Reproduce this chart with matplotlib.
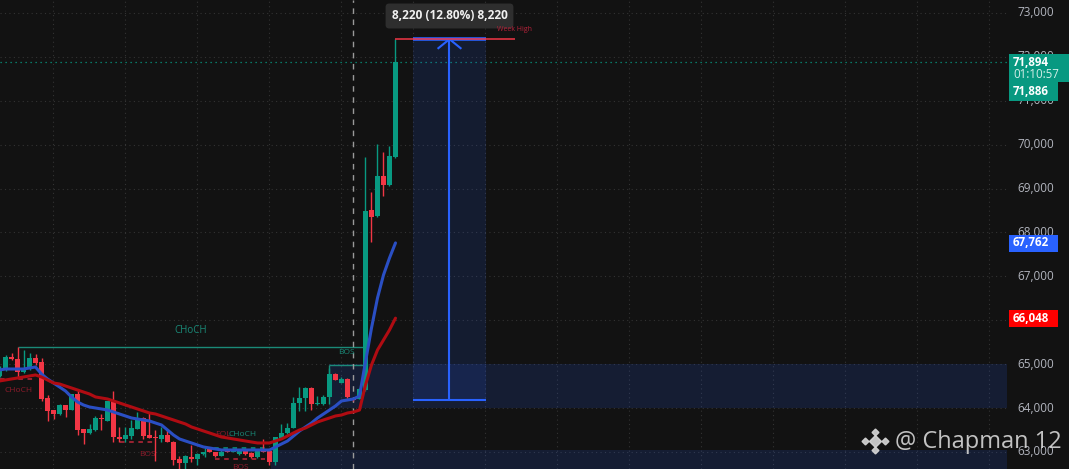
import matplotlib.pyplot as plt
from matplotlib.patches import Rectangle
import numpy as np

plt.rcParams['font.family'] = ['Open Sans', 'DejaVu Sans']

# candle data (one bar per index)
opens = [64731, 64868, 65164, 65118, 64822, 64890, 65141, 65050, 64230, 63956,
         63865, 64070, 63956, 64321, 63524, 63433, 63501, 63774, 63706, 64162,
         63342, 63296, 63364, 63524, 63774, 63387, 63330, 63296, 63387, 63228,
         62841, 62749, 62886, 62841, 62954, 63068, 63000, 62909, 63045, 63000,
         62954, 63045, 62977, 62886, 63045, 63023, 62772, 63319, 63433, 63547,
         64116, 64230, 64458, 64093, 64093, 64253, 64777, 64572, 64663, 64230,
         64207, 64412, 68513, 68376, 69287, 69082, 69720]
highs = [64950, 65209, 65250, 65391, 65323, 65250, 65230, 65150, 64298, 63960,
         64090, 64080, 64330, 64435, 63530, 63640, 63820, 63860, 64170, 64389,
         63570, 63570, 63730, 63900, 63790, 63900, 63500, 63570, 63520, 63240,
         62900, 62930, 63160, 62970, 63010, 63070, 63010, 63040, 63060, 63045,
         63060, 63070, 62990, 63060, 63296, 63030, 63350, 63638, 63660, 64250,
         64481, 64481, 64481, 64270, 64300, 64913, 64800, 64700, 64680, 64240,
         64450, 69720, 68923, 70016, 69834, 69970, 72400]
lows = [64700, 64850, 65100, 64708, 64799, 64870, 64980, 64150, 63706, 63750,
        63850, 63797, 63950, 63387, 63182, 63420, 63470, 63501, 63700, 63228,
        63228, 63228, 63300, 63520, 63296, 63310, 62800, 63228, 63220, 62700,
        62600, 62600, 62780, 62700, 62940, 62990, 62880, 62900, 62990, 62990,
        62940, 62940, 62870, 62870, 62990, 62700, 62700, 63310, 63420, 63540,
        63934, 63934, 63950, 64080, 64080, 64100, 64630, 64560, 64240, 64170,
        64200, 64400, 67784, 68350, 68831, 69060, 69700]
closes = [64890, 65164, 65118, 64822, 64913, 65141, 65027, 64207, 63934, 63865,
          64070, 63956, 64321, 63501, 63433, 63524, 63774, 63750, 64162, 63342,
          63296, 63387, 63547, 63774, 63364, 63319, 63319, 63387, 63228, 62818,
          62749, 62909, 62850, 62954, 63000, 63000, 62909, 63000, 63000, 63023,
          63045, 62954, 62886, 63045, 63000, 62772, 63342, 63433, 63547, 64116,
          64230, 64458, 64093, 64116, 64253, 64777, 64640, 64663, 64253, 64184,
          64435, 68490, 68353, 69287, 69082, 69743, 71894]
ma_fast = [64868, 64890, 64890, 64890, 64890, 64913, 64936, 64777, 64663, 64572,
           64481, 64389, 64253, 64139, 64070, 64025, 64002, 63979, 63956, 63911,
           63865, 63820, 63774, 63751, 63729, 63706, 63660, 63615, 63501, 63387,
           63296, 63250, 63205, 63159, 63114, 63091, 63068, 63045, 63045, 63045,
           63045, 63045, 63045, 63045, 63045, 63045, 63114, 63182, 63250, 63364,
           63478, 63569, 63660, 63774, 63865, 63956, 64048, 64162, 64184, 64207,
           64275, 65050, 65824, 66508, 67032, 67419, 67762]
ma_slow = [64617, 64640, 64663, 64685, 64708, 64731, 64754, 64708, 64640, 64572,
           64549, 64503, 64458, 64412, 64366, 64321, 64253, 64230, 64207, 64162,
           64116, 64070, 64025, 63979, 63934, 63888, 63865, 63820, 63774, 63729,
           63683, 63638, 63569, 63524, 63478, 63433, 63387, 63341, 63319, 63296,
           63273, 63250, 63227, 63205, 63205, 63205, 63250, 63296, 63364, 63433,
           63501, 63546, 63615, 63683, 63729, 63774, 63820, 63842, 63888, 63911,
           63956, 64526, 64982, 65323, 65551, 65779, 66048]

price_ticks = [63000, 64000, 65000, 66000, 67000, 68000, 69000, 70000, 71000, 72000, 73000]
tick_labels = ['63,000', '64,000', '65,000', '66,000', '67,000', '68,000',
               '69,000', '70,000', '71,000', '72,000', '73,000']

last_price = 71894
last_price_2 = 71886
countdown = '01:10:57'
measure_low = 64184
measure_high = 72404
measure_text = '8,220 (12.80%) 8,220'
week_high = 72400
choch_level = 65391
bos_level = 64980
red_choch_level = 64663
red_bos_level = 63227
eql_high = 63091
eql_low = 62841
zone_top = (64000, 65000)
zone_bottom = (62000, 63045)

BG = '#121212'
GREEN = '#089981'
RED = '#f23645'
BLUE = '#2962ff'
DIM_GREEN = '#1a8a78'
DIM_RED = '#8e1b2b'

fig = plt.figure(figsize=(10.69, 4.69), dpi=100, facecolor=BG)
ax = fig.add_axes([0, 0, 1007 / 1069, 1])
ax.set_facecolor(BG)
ymin, ymax = 62612, 73296
ax.set_ylim(ymin, ymax)
ax.set_xlim(0.083, 167.92)
px = (ymax - ymin) / 469.0
for s in ax.spines.values():
    s.set_visible(False)
ax.set_xticks([])
ax.set_yticks([])

# grid
for p in price_ticks:
    ax.axhline(p, color='#333333', lw=0.8, ls=(0, (1, 3)), zorder=0)
for gx in np.arange(8.9, 168, 12):
    ax.axvline(gx, color='#333333', lw=0.8, ls=(0, (1, 3)), zorder=0)

# zones
ax.add_patch(Rectangle((54.9, zone_top[0]), 120, zone_top[1] - zone_top[0],
                       fc=BLUE, alpha=0.14, ec='none', zorder=1))
ax.add_patch(Rectangle((45.2, zone_bottom[0]), 130, zone_bottom[1] - zone_bottom[0],
                       fc=BLUE, alpha=0.14, ec='none', zorder=1))

# structure lines
ax.hlines(choch_level, 3, 60.6, color=DIM_GREEN, lw=1, zorder=2)
ax.hlines(bos_level, 54.9, 61, color=DIM_GREEN, lw=1, zorder=2)
ax.vlines(54.9, bos_level - 9 * px, bos_level, color=DIM_GREEN, lw=1, zorder=2)
ax.hlines(red_choch_level, 0.1, 6.1, color='#c0283a', lw=1.1, ls=(0, (3, 3)), zorder=2)
ax.hlines(red_bos_level, 20.1, 26, color='#c0283a', lw=1.1, ls=(0, (3, 3)), zorder=2)
ax.hlines(eql_high, 34.2, 45, color=GREEN, lw=1.1, ls=(0, (3, 3)), zorder=2)
ax.vlines(34.2, eql_high - 9 * px, eql_high, color=GREEN, lw=1, zorder=2)
ax.hlines(eql_low, 36, 44.3, color='#c0283a', lw=1.1, ls=(0, (3, 3)), zorder=2)

ax.text(31.9, 65756, 'CHoCH', color=DIM_GREEN, fontsize=7, ha='center', va='center')
ax.text(57.9, 65255, 'BOS', color=DIM_GREEN, fontsize=6, ha='center', va='center')
ax.text(3.2, 64389, 'CHoCH', color=DIM_RED, fontsize=6, ha='center', va='center')
ax.text(24.6, 62931, 'BOS', color=DIM_RED, fontsize=6, ha='center', va='center')
ax.text(38.5, 63387, 'EQL', color=DIM_RED, fontsize=6, ha='right', va='center')
ax.text(38.1, 63387, 'CHoCH', color=DIM_GREEN, fontsize=6, ha='left', va='center')
ax.text(40.1, 62650, 'BOS', color=DIM_RED, fontsize=6, ha='center', va='center')

# session separator and last price line
ax.axvline(58.9, color='#9a9a9a', lw=1, ls=(0, (4, 4)), zorder=2)
ax.axhline(last_price, color=GREEN, lw=0.9, ls=(0, (1, 3)), zorder=2)

# candles
idx = np.arange(len(opens))
o = np.array(opens); c = np.array(closes)
colors = [GREEN if cc >= oo else RED for oo, cc in zip(o, c)]
ax.vlines(idx, lows, highs, color=colors, lw=1, zorder=3)
ax.bar(idx, np.maximum(np.abs(c - o), px), bottom=np.minimum(o, c), width=0.84,
       color=colors, zorder=3)

# moving averages
ax.plot(idx, ma_fast, color='#2a4fc4', lw=2.2, zorder=4, solid_capstyle='round')
ax.plot(idx, ma_slow, color='#b00c12', lw=2.2, zorder=4, solid_capstyle='round')

# measure tool
mx0, mx1, mxc = 68.9, 81.1, 75
ax.add_patch(Rectangle((mx0, measure_low), mx1 - mx0, measure_high - measure_low,
                       fc=BLUE, alpha=0.13, ec='none', zorder=2))
ax.hlines(measure_high, mx0, mx1, color=BLUE, lw=2.6, zorder=5)
ax.hlines(measure_low, mx0, mx1, color=BLUE, lw=1.5, zorder=5)
ax.vlines(mxc, measure_low, measure_high, color=BLUE, lw=1.5, zorder=5)
ax.plot([mxc - 1.85, mxc, mxc + 1.85], [measure_high - 9 * px, measure_high, measure_high - 9 * px],
        color=BLUE, lw=1.5, zorder=5)
ax.text(mxc, ymax - 16 * px, measure_text, color='#f0f0f0', fontsize=8.6, fontweight='bold',
        ha='center', va='center', zorder=6,
        bbox=dict(boxstyle='round,pad=0.5,rounding_size=0.3', fc='#2e2e2e', ec='none'))

# week high
ax.hlines(week_high, 66, 86, color=RED, lw=1.1, zorder=5)
ax.text(85.8, ymax - 29 * px, 'Week High', color='#b5223a', fontsize=5,
        ha='center', va='center', zorder=7)

# price scale
ty = ax.get_yaxis_transform()
covered = {66000}
for p, lab in zip(price_ticks, tick_labels):
    if p in covered:
        continue
    ax.text(1017 / 1007, p, lab, transform=ty, color='#b2b5be', fontsize=8.5,
            ha='left', va='center', clip_on=False)


def price_box(y0, h, w, color):
    ax.add_patch(Rectangle((1009 / 1007, y0), w / 1007, h, transform=ty, fc=color,
                           ec='none', clip_on=False, zorder=10))


price_box(last_price - 20 * px, 28 * px, 60, GREEN)
price_box(last_price - 39 * px, 19 * px, 49, GREEN)
ax.text(1013 / 1007, last_price - 1 * px, f'{last_price:,}', transform=ty, color='white',
        fontsize=8.3, fontweight='bold', ha='left', va='center', clip_on=False, zorder=11)
ax.text(1013 / 1007, last_price - 13 * px, countdown, transform=ty, color='#d5efe9',
        fontsize=8.3, ha='left', va='center', clip_on=False, zorder=11)
ax.text(1013 / 1007, last_price - 30 * px, f'{last_price_2:,}', transform=ty, color='white',
        fontsize=8.3, fontweight='bold', ha='left', va='center', clip_on=False, zorder=11)

for val, col in [(ma_fast[-1], BLUE), (ma_slow[-1], '#ff0000')]:
    price_box(val - 9 * px, 17 * px, 49, col)
    ax.text(1013 / 1007, val, f'{val:,}', transform=ty, color='white', fontsize=8.3,
            fontweight='bold', ha='left', va='center', clip_on=False, zorder=11)

# watermark
fig.text(0.837, 0.058, '@ Chapman 12', color='#d6d6d6', fontsize=17, ha='left',
         va='center', alpha=0.9, zorder=20)
lx, ly = 875 / 1069, 1 - 441 / 469
for dx, dy, s in [(0, 0, 6), (-0.009, 0, 3.5), (0.009, 0, 3.5), (0, 0.02, 3.5), (0, -0.02, 3.5)]:
    fig.lines.append(plt.Line2D([lx + dx], [ly + dy], transform=fig.transFigure,
                                marker='D', ms=s, color='#d6d6d6', mec='#d6d6d6',
                                alpha=0.9, zorder=20))

fig.savefig('out.png', dpi=100, facecolor=BG)
